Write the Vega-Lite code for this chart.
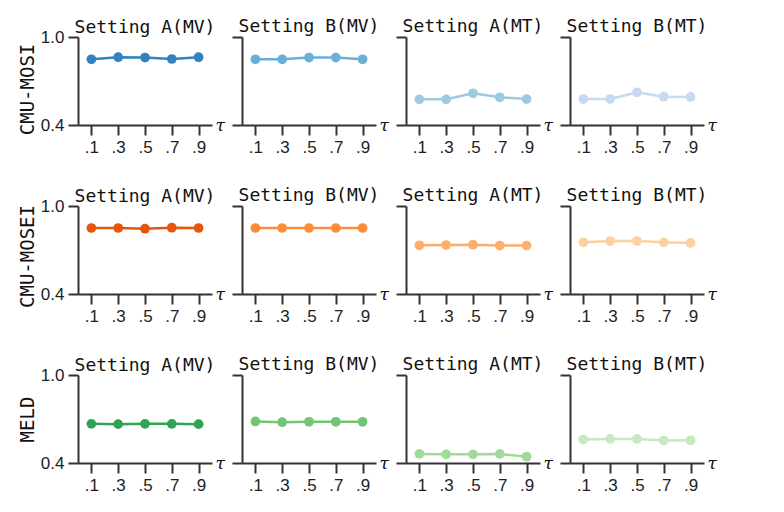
{
  "$schema": "https://vega.github.io/schema/vega-lite/v6.json",
  "padding": {"left": 18, "top": 18, "right": 5, "bottom": 5},
  "background": "white",
  "data": {"values": [
    {"d":"CMU-MOSI","s":"A(MV)","tau":0.1,"v":0.848},{"d":"CMU-MOSI","s":"A(MV)","tau":0.3,"v":0.862},{"d":"CMU-MOSI","s":"A(MV)","tau":0.5,"v":0.86},{"d":"CMU-MOSI","s":"A(MV)","tau":0.7,"v":0.85},{"d":"CMU-MOSI","s":"A(MV)","tau":0.9,"v":0.862},
    {"d":"CMU-MOSI","s":"B(MV)","tau":0.1,"v":0.848},{"d":"CMU-MOSI","s":"B(MV)","tau":0.3,"v":0.848},{"d":"CMU-MOSI","s":"B(MV)","tau":0.5,"v":0.86},{"d":"CMU-MOSI","s":"B(MV)","tau":0.7,"v":0.86},{"d":"CMU-MOSI","s":"B(MV)","tau":0.9,"v":0.848},
    {"d":"CMU-MOSI","s":"A(MT)","tau":0.1,"v":0.575},{"d":"CMU-MOSI","s":"A(MT)","tau":0.3,"v":0.575},{"d":"CMU-MOSI","s":"A(MT)","tau":0.5,"v":0.616},{"d":"CMU-MOSI","s":"A(MT)","tau":0.7,"v":0.589},{"d":"CMU-MOSI","s":"A(MT)","tau":0.9,"v":0.577},
    {"d":"CMU-MOSI","s":"B(MT)","tau":0.1,"v":0.577},{"d":"CMU-MOSI","s":"B(MT)","tau":0.3,"v":0.577},{"d":"CMU-MOSI","s":"B(MT)","tau":0.5,"v":0.623},{"d":"CMU-MOSI","s":"B(MT)","tau":0.7,"v":0.593},{"d":"CMU-MOSI","s":"B(MT)","tau":0.9,"v":0.591},
    {"d":"CMU-MOSEI","s":"A(MV)","tau":0.1,"v":0.85},{"d":"CMU-MOSEI","s":"A(MV)","tau":0.3,"v":0.85},{"d":"CMU-MOSEI","s":"A(MV)","tau":0.5,"v":0.845},{"d":"CMU-MOSEI","s":"A(MV)","tau":0.7,"v":0.852},{"d":"CMU-MOSEI","s":"A(MV)","tau":0.9,"v":0.85},
    {"d":"CMU-MOSEI","s":"B(MV)","tau":0.1,"v":0.85},{"d":"CMU-MOSEI","s":"B(MV)","tau":0.3,"v":0.85},{"d":"CMU-MOSEI","s":"B(MV)","tau":0.5,"v":0.85},{"d":"CMU-MOSEI","s":"B(MV)","tau":0.7,"v":0.85},{"d":"CMU-MOSEI","s":"B(MV)","tau":0.9,"v":0.85},
    {"d":"CMU-MOSEI","s":"A(MT)","tau":0.1,"v":0.732},{"d":"CMU-MOSEI","s":"A(MT)","tau":0.3,"v":0.734},{"d":"CMU-MOSEI","s":"A(MT)","tau":0.5,"v":0.736},{"d":"CMU-MOSEI","s":"A(MT)","tau":0.7,"v":0.73},{"d":"CMU-MOSEI","s":"A(MT)","tau":0.9,"v":0.73},
    {"d":"CMU-MOSEI","s":"B(MT)","tau":0.1,"v":0.752},{"d":"CMU-MOSEI","s":"B(MT)","tau":0.3,"v":0.761},{"d":"CMU-MOSEI","s":"B(MT)","tau":0.5,"v":0.761},{"d":"CMU-MOSEI","s":"B(MT)","tau":0.7,"v":0.752},{"d":"CMU-MOSEI","s":"B(MT)","tau":0.9,"v":0.748},
    {"d":"MELD","s":"A(MV)","tau":0.1,"v":0.667},{"d":"MELD","s":"A(MV)","tau":0.3,"v":0.665},{"d":"MELD","s":"A(MV)","tau":0.5,"v":0.667},{"d":"MELD","s":"A(MV)","tau":0.7,"v":0.667},{"d":"MELD","s":"A(MV)","tau":0.9,"v":0.665},
    {"d":"MELD","s":"B(MV)","tau":0.1,"v":0.683},{"d":"MELD","s":"B(MV)","tau":0.3,"v":0.678},{"d":"MELD","s":"B(MV)","tau":0.5,"v":0.681},{"d":"MELD","s":"B(MV)","tau":0.7,"v":0.681},{"d":"MELD","s":"B(MV)","tau":0.9,"v":0.681},
    {"d":"MELD","s":"A(MT)","tau":0.1,"v":0.462},{"d":"MELD","s":"A(MT)","tau":0.3,"v":0.459},{"d":"MELD","s":"A(MT)","tau":0.5,"v":0.459},{"d":"MELD","s":"A(MT)","tau":0.7,"v":0.462},{"d":"MELD","s":"A(MT)","tau":0.9,"v":0.443},
    {"d":"MELD","s":"B(MT)","tau":0.1,"v":0.56},{"d":"MELD","s":"B(MT)","tau":0.3,"v":0.564},{"d":"MELD","s":"B(MT)","tau":0.5,"v":0.564},{"d":"MELD","s":"B(MT)","tau":0.7,"v":0.553},{"d":"MELD","s":"B(MT)","tau":0.9,"v":0.555}
  ]},
  "config": {
    "view": {"continuousWidth": 134, "continuousHeight": 88, "stroke": null},
    "axis": {"domainColor": "#333333", "domainWidth": 2, "tickColor": "#333333", "tickWidth": 2, "tickSize": 10, "grid": false, "labelFont": "Liberation Sans", "labelFontSize": 17, "labelColor": "#222222", "labelPadding": 4, "titleFont": "DejaVu Sans Mono", "titleFontSize": 19, "titleFontWeight": "normal", "titleColor": "#111111"},
    "title": {"font": "DejaVu Sans Mono", "fontSize": 18, "fontWeight": "normal", "anchor": "middle", "frame": "group", "offset": 0, "color": "#111111"}
  },
  "columns": 4,
  "bounds": "flush",
  "spacing": {"row": 81, "column": 30},
  "concat": [
      {"width": 134, "height": 88, "title": {"text": "Setting A(MV)", "dy": 13}, "transform": [{"filter": "datum.d==='CMU-MOSI' && datum.s==='A(MV)'"}], "mark": {"type": "line", "color": "#3182bd", "strokeWidth": 2.5, "point": {"filled": true, "size": 95, "color": "#3182bd", "opacity": 1}}, "encoding": {"x": {"field": "tau", "type": "quantitative", "scale": {"domain": [0, 1]}, "axis": {"values": [0.1, 0.3, 0.5, 0.7, 0.9], "labelExpr": "'.' + round(datum.value*10)", "title": "τ", "titleFont": "DejaVu Serif", "titleFontStyle": "italic", "titleFontSize": 17, "titleX": 137, "titleY": 0, "titleAlign": "left", "titleBaseline": "middle", "titleAngle": 0}}, "y": {"field": "v", "type": "quantitative", "scale": {"domain": [0.4, 1.0]}, "axis": {"values": [0.4, 1.0], "format": ".1f", "title": "CMU-MOSI", "titlePadding": 3, "titleY": 52}}}},
      {"width": 134, "height": 88, "title": {"text": "Setting B(MV)", "dy": 4}, "transform": [{"filter": "datum.d==='CMU-MOSI' && datum.s==='B(MV)'"}], "mark": {"type": "line", "color": "#6baed6", "strokeWidth": 2.5, "point": {"filled": true, "size": 95, "color": "#6baed6", "opacity": 1}}, "encoding": {"x": {"field": "tau", "type": "quantitative", "scale": {"domain": [0, 1]}, "axis": {"values": [0.1, 0.3, 0.5, 0.7, 0.9], "labelExpr": "'.' + round(datum.value*10)", "title": "τ", "titleFont": "DejaVu Serif", "titleFontStyle": "italic", "titleFontSize": 17, "titleX": 137, "titleY": 0, "titleAlign": "left", "titleBaseline": "middle", "titleAngle": 0}}, "y": {"field": "v", "type": "quantitative", "scale": {"domain": [0.4, 1.0]}, "axis": {"values": [0.4, 1.0], "labels": false, "title": null}}}},
      {"width": 134, "height": 88, "title": {"text": "Setting A(MT)", "dy": 4}, "transform": [{"filter": "datum.d==='CMU-MOSI' && datum.s==='A(MT)'"}], "mark": {"type": "line", "color": "#9ecae1", "strokeWidth": 2.5, "point": {"filled": true, "size": 95, "color": "#9ecae1", "opacity": 1}}, "encoding": {"x": {"field": "tau", "type": "quantitative", "scale": {"domain": [0, 1]}, "axis": {"values": [0.1, 0.3, 0.5, 0.7, 0.9], "labelExpr": "'.' + round(datum.value*10)", "title": "τ", "titleFont": "DejaVu Serif", "titleFontStyle": "italic", "titleFontSize": 17, "titleX": 137, "titleY": 0, "titleAlign": "left", "titleBaseline": "middle", "titleAngle": 0}}, "y": {"field": "v", "type": "quantitative", "scale": {"domain": [0.4, 1.0]}, "axis": {"values": [0.4, 1.0], "labels": false, "title": null}}}},
      {"width": 134, "height": 88, "title": {"text": "Setting B(MT)", "dy": 4}, "transform": [{"filter": "datum.d==='CMU-MOSI' && datum.s==='B(MT)'"}], "mark": {"type": "line", "color": "#c6dbef", "strokeWidth": 2.5, "point": {"filled": true, "size": 95, "color": "#c6dbef", "opacity": 1}}, "encoding": {"x": {"field": "tau", "type": "quantitative", "scale": {"domain": [0, 1]}, "axis": {"values": [0.1, 0.3, 0.5, 0.7, 0.9], "labelExpr": "'.' + round(datum.value*10)", "title": "τ", "titleFont": "DejaVu Serif", "titleFontStyle": "italic", "titleFontSize": 17, "titleX": 137, "titleY": 0, "titleAlign": "left", "titleBaseline": "middle", "titleAngle": 0}}, "y": {"field": "v", "type": "quantitative", "scale": {"domain": [0.4, 1.0]}, "axis": {"values": [0.4, 1.0], "labels": false, "title": null}}}},
      {"width": 134, "height": 88, "title": {"text": "Setting A(MV)", "dy": 13}, "transform": [{"filter": "datum.d==='CMU-MOSEI' && datum.s==='A(MV)'"}], "mark": {"type": "line", "color": "#e6550d", "strokeWidth": 2.5, "point": {"filled": true, "size": 95, "color": "#e6550d", "opacity": 1}}, "encoding": {"x": {"field": "tau", "type": "quantitative", "scale": {"domain": [0, 1]}, "axis": {"values": [0.1, 0.3, 0.5, 0.7, 0.9], "labelExpr": "'.' + round(datum.value*10)", "title": "τ", "titleFont": "DejaVu Serif", "titleFontStyle": "italic", "titleFontSize": 17, "titleX": 137, "titleY": 0, "titleAlign": "left", "titleBaseline": "middle", "titleAngle": 0}}, "y": {"field": "v", "type": "quantitative", "scale": {"domain": [0.4, 1.0]}, "axis": {"values": [0.4, 1.0], "format": ".1f", "title": "CMU-MOSEI", "titlePadding": 3, "titleY": 50}}}},
      {"width": 134, "height": 88, "title": {"text": "Setting B(MV)", "dy": 4}, "transform": [{"filter": "datum.d==='CMU-MOSEI' && datum.s==='B(MV)'"}], "mark": {"type": "line", "color": "#fd8d3c", "strokeWidth": 2.5, "point": {"filled": true, "size": 95, "color": "#fd8d3c", "opacity": 1}}, "encoding": {"x": {"field": "tau", "type": "quantitative", "scale": {"domain": [0, 1]}, "axis": {"values": [0.1, 0.3, 0.5, 0.7, 0.9], "labelExpr": "'.' + round(datum.value*10)", "title": "τ", "titleFont": "DejaVu Serif", "titleFontStyle": "italic", "titleFontSize": 17, "titleX": 137, "titleY": 0, "titleAlign": "left", "titleBaseline": "middle", "titleAngle": 0}}, "y": {"field": "v", "type": "quantitative", "scale": {"domain": [0.4, 1.0]}, "axis": {"values": [0.4, 1.0], "labels": false, "title": null}}}},
      {"width": 134, "height": 88, "title": {"text": "Setting A(MT)", "dy": 4}, "transform": [{"filter": "datum.d==='CMU-MOSEI' && datum.s==='A(MT)'"}], "mark": {"type": "line", "color": "#fdae6b", "strokeWidth": 2.5, "point": {"filled": true, "size": 95, "color": "#fdae6b", "opacity": 1}}, "encoding": {"x": {"field": "tau", "type": "quantitative", "scale": {"domain": [0, 1]}, "axis": {"values": [0.1, 0.3, 0.5, 0.7, 0.9], "labelExpr": "'.' + round(datum.value*10)", "title": "τ", "titleFont": "DejaVu Serif", "titleFontStyle": "italic", "titleFontSize": 17, "titleX": 137, "titleY": 0, "titleAlign": "left", "titleBaseline": "middle", "titleAngle": 0}}, "y": {"field": "v", "type": "quantitative", "scale": {"domain": [0.4, 1.0]}, "axis": {"values": [0.4, 1.0], "labels": false, "title": null}}}},
      {"width": 134, "height": 88, "title": {"text": "Setting B(MT)", "dy": 4}, "transform": [{"filter": "datum.d==='CMU-MOSEI' && datum.s==='B(MT)'"}], "mark": {"type": "line", "color": "#fdd0a2", "strokeWidth": 2.5, "point": {"filled": true, "size": 95, "color": "#fdd0a2", "opacity": 1}}, "encoding": {"x": {"field": "tau", "type": "quantitative", "scale": {"domain": [0, 1]}, "axis": {"values": [0.1, 0.3, 0.5, 0.7, 0.9], "labelExpr": "'.' + round(datum.value*10)", "title": "τ", "titleFont": "DejaVu Serif", "titleFontStyle": "italic", "titleFontSize": 17, "titleX": 137, "titleY": 0, "titleAlign": "left", "titleBaseline": "middle", "titleAngle": 0}}, "y": {"field": "v", "type": "quantitative", "scale": {"domain": [0.4, 1.0]}, "axis": {"values": [0.4, 1.0], "labels": false, "title": null}}}},
      {"width": 134, "height": 88, "title": {"text": "Setting A(MV)", "dy": 13}, "transform": [{"filter": "datum.d==='MELD' && datum.s==='A(MV)'"}], "mark": {"type": "line", "color": "#31a354", "strokeWidth": 2.5, "point": {"filled": true, "size": 95, "color": "#31a354", "opacity": 1}}, "encoding": {"x": {"field": "tau", "type": "quantitative", "scale": {"domain": [0, 1]}, "axis": {"values": [0.1, 0.3, 0.5, 0.7, 0.9], "labelExpr": "'.' + round(datum.value*10)", "title": "τ", "titleFont": "DejaVu Serif", "titleFontStyle": "italic", "titleFontSize": 17, "titleX": 137, "titleY": 0, "titleAlign": "left", "titleBaseline": "middle", "titleAngle": 0}}, "y": {"field": "v", "type": "quantitative", "scale": {"domain": [0.4, 1.0]}, "axis": {"values": [0.4, 1.0], "format": ".1f", "title": "MELD", "titlePadding": 3, "titleY": 44}}}},
      {"width": 134, "height": 88, "title": {"text": "Setting B(MV)", "dy": 4}, "transform": [{"filter": "datum.d==='MELD' && datum.s==='B(MV)'"}], "mark": {"type": "line", "color": "#74c476", "strokeWidth": 2.5, "point": {"filled": true, "size": 95, "color": "#74c476", "opacity": 1}}, "encoding": {"x": {"field": "tau", "type": "quantitative", "scale": {"domain": [0, 1]}, "axis": {"values": [0.1, 0.3, 0.5, 0.7, 0.9], "labelExpr": "'.' + round(datum.value*10)", "title": "τ", "titleFont": "DejaVu Serif", "titleFontStyle": "italic", "titleFontSize": 17, "titleX": 137, "titleY": 0, "titleAlign": "left", "titleBaseline": "middle", "titleAngle": 0}}, "y": {"field": "v", "type": "quantitative", "scale": {"domain": [0.4, 1.0]}, "axis": {"values": [0.4, 1.0], "labels": false, "title": null}}}},
      {"width": 134, "height": 88, "title": {"text": "Setting A(MT)", "dy": 4}, "transform": [{"filter": "datum.d==='MELD' && datum.s==='A(MT)'"}], "mark": {"type": "line", "color": "#a1d99b", "strokeWidth": 2.5, "point": {"filled": true, "size": 95, "color": "#a1d99b", "opacity": 1}}, "encoding": {"x": {"field": "tau", "type": "quantitative", "scale": {"domain": [0, 1]}, "axis": {"values": [0.1, 0.3, 0.5, 0.7, 0.9], "labelExpr": "'.' + round(datum.value*10)", "title": "τ", "titleFont": "DejaVu Serif", "titleFontStyle": "italic", "titleFontSize": 17, "titleX": 137, "titleY": 0, "titleAlign": "left", "titleBaseline": "middle", "titleAngle": 0}}, "y": {"field": "v", "type": "quantitative", "scale": {"domain": [0.4, 1.0]}, "axis": {"values": [0.4, 1.0], "labels": false, "title": null}}}},
      {"width": 134, "height": 88, "title": {"text": "Setting B(MT)", "dy": 4}, "transform": [{"filter": "datum.d==='MELD' && datum.s==='B(MT)'"}], "mark": {"type": "line", "color": "#c7e9c0", "strokeWidth": 2.5, "point": {"filled": true, "size": 95, "color": "#c7e9c0", "opacity": 1}}, "encoding": {"x": {"field": "tau", "type": "quantitative", "scale": {"domain": [0, 1]}, "axis": {"values": [0.1, 0.3, 0.5, 0.7, 0.9], "labelExpr": "'.' + round(datum.value*10)", "title": "τ", "titleFont": "DejaVu Serif", "titleFontStyle": "italic", "titleFontSize": 17, "titleX": 137, "titleY": 0, "titleAlign": "left", "titleBaseline": "middle", "titleAngle": 0}}, "y": {"field": "v", "type": "quantitative", "scale": {"domain": [0.4, 1.0]}, "axis": {"values": [0.4, 1.0], "labels": false, "title": null}}}}
  ]
}
